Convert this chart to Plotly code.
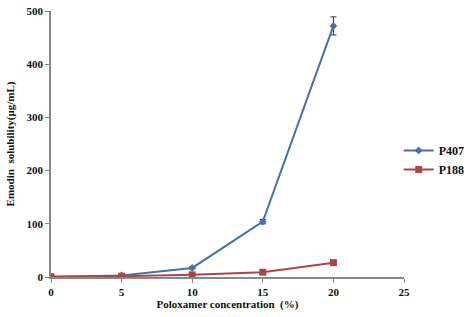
import plotly.graph_objects as go

conc = [0, 5, 10, 15, 20]
p407 = [0.5, 3, 17, 104, 472]
p407_err = [0.2, 0.5, 1.5, 4, 17]
p188 = [0.5, 1.5, 4, 9, 27]
p188_err = [0.1, 0.2, 0.4, 0.8, 1.5]
x_ticks = [0, 5, 10, 15, 20, 25]
y_ticks = [0, 100, 200, 300, 400, 500]

def f(size=11):
    return dict(family="Liberation Serif", size=size, color="#111", weight="bold")

fig = go.Figure()
fig.add_trace(go.Scatter(
    x=conc, y=p407, name="P407", mode="lines+markers",
    line=dict(color="#4572A7", width=2),
    marker=dict(symbol="diamond", size=6, color="#4572A7"),
    error_y=dict(type="data", array=p407_err, color="#333", thickness=1, width=3),
))
fig.add_trace(go.Scatter(
    x=conc, y=p188, name="P188", mode="lines+markers",
    line=dict(color="#AA4643", width=2),
    marker=dict(symbol="square", size=7, color="#AA4643"),
    error_y=dict(type="data", array=p188_err, color="#333", thickness=1, width=3),
))

fig.update_layout(
    width=474, height=317,
    margin=dict(l=51, r=70, t=11, b=40, autoexpand=False),
    paper_bgcolor="white", plot_bgcolor="white",
    font=f(),
    showlegend=True,
    legend=dict(x=0.985, y=0.44, xanchor="left", yanchor="middle",
                font=f(12), bgcolor="rgba(0,0,0,0)", tracegroupgap=2, itemwidth=30),
    xaxis=dict(range=[0, 25], tickvals=x_ticks, showgrid=False, zeroline=False,
               showline=True, linecolor="#888", linewidth=1.5,
               ticks="outside", ticklen=4, tickcolor="#888",
               tickfont=f(11),
               title=dict(text="Poloxamer concentration  (%)", standoff=3, font=f(11))),
    yaxis=dict(range=[0, 500], tickvals=y_ticks, showgrid=False, zeroline=False,
               showline=True, linecolor="#888", linewidth=1.5,
               ticks="outside", ticklen=4, tickcolor="#888",
               tickfont=f(11),
               title=dict(text="Emodin  solubility(μg/mL)", standoff=10, font=f(11))),
)
fig.write_html("out.html")
